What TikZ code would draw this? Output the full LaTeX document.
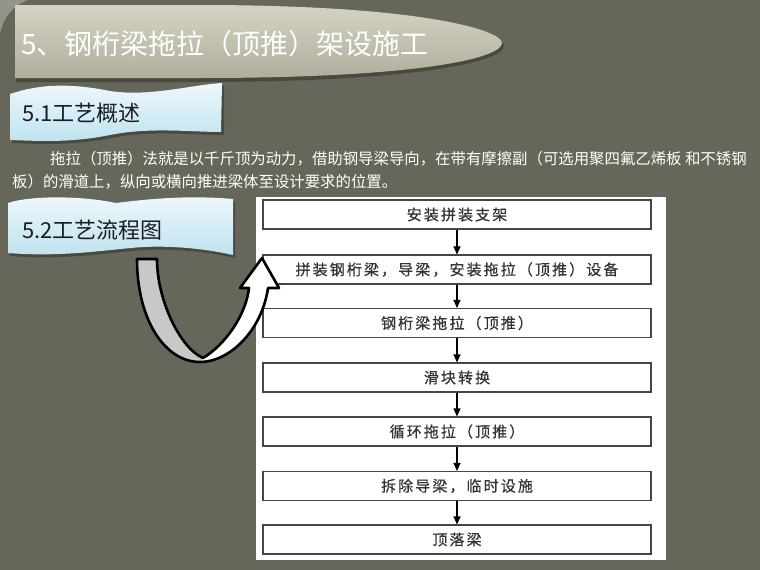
\documentclass[tikz,border=0pt]{standalone}
\usepackage{fontspec}
\setmainfont{Noto Sans CJK SC}
\usetikzlibrary{arrows.meta}
\definecolor{bg}{HTML}{66665A}
\definecolor{bannertop}{HTML}{D4D2C2}
\definecolor{bannerbot}{HTML}{B0AE9B}
\definecolor{wavetop}{HTML}{EDF8FC}
\definecolor{wavebot}{HTML}{BEE2EE}
\definecolor{wavetext}{HTML}{1C1C28}
\definecolor{boxline}{HTML}{454545}
\definecolor{boxtext}{HTML}{333333}
\definecolor{shadow}{HTML}{3E3E36}
\definecolor{armgrey}{HTML}{C8C8C8}
\begin{document}
\begin{tikzpicture}[x=1pt,y=-1pt,
  stepbox/.style={draw=boxline, line width=1.1pt, fill=white, minimum width=388pt,
    minimum height=29pt, inner sep=0pt, text=boxtext,
    font=\fontsize{15}{16}\selectfont\addfontfeature{LetterSpace=14,FakeBold=0.6}},
  flow/.style={-{Triangle[width=7pt,length=8pt]}, line width=1.1pt, black},
  wavetxt/.style={anchor=west, inner sep=0pt, text=wavetext, font=\fontsize{22}{24}\selectfont},
  paratxt/.style={anchor=west, inner sep=0pt, text=white, font=\fontsize{15.4}{16}\selectfont}]
\fill[bg] (0,0) rectangle (760,570);
\useasboundingbox (0,0) rectangle (760,570);
% top-left corner lighter arc
\fill[color=bg!70!white] (0,0) -- (28,0) .. controls (12,6) and (3,18) .. (0,34) -- cycle;
% title banner
\fill[shadow, opacity=0.7] (16,8) -- (200,8) .. controls (420,8) and (504,33) .. (504,46)
  .. controls (504,61) and (420,82) .. (200,82) -- (16,82) -- cycle;
\shade[top color=bannertop, bottom color=bannerbot] (15,5) -- (200,5) .. controls (420,5) and (502,30) .. (502,43)
  .. controls (502,58) and (420,78) .. (200,78) -- (15,78) -- cycle;
\node[anchor=west, inner sep=0pt, text=white, font=\fontsize{28}{30}\selectfont] (title) at (21,44) {5、钢桁梁拖拉（顶推）架设施工};
% wavy banner 1
\fill[shadow, opacity=0.7] (12,97) .. controls (40,87) and (70,86) .. (112,94) .. controls (150,100) and (190,88) .. (224,86)
  -- (224,135) .. controls (190,135) and (150,130) .. (112,138) .. controls (70,146) and (40,144) .. (12,143) -- cycle;
\shade[top color=wavetop, bottom color=wavebot] (10,94) .. controls (40,84) and (70,83) .. (110,91) .. controls (150,97) and (190,85) .. (222,83)
  -- (221,132) .. controls (190,132) and (150,127) .. (110,135) .. controls (70,143) and (40,141) .. (10,140) -- cycle;
\node[wavetxt] (h1) at (22,113) {5.1工艺概述};
% paragraph
\node[paratxt] (p1) at (50,159) {拖拉（顶推）法就是以千斤顶为动力，借助钢导梁导向，在带有摩擦副（可选用聚四氟乙烯板 和不锈钢};
\node[paratxt] (p2) at (12,182) {板）的滑道上，纵向或横向推进梁体至设计要求的位置。};
% wavy banner 2
\fill[shadow, opacity=0.7] (10,206) .. controls (30,199) and (80,198) .. (118,206) .. controls (150,202) and (190,198) .. (235,202)
  -- (235,258) .. controls (200,250) and (160,248) .. (133,251) .. controls (100,254) and (60,260) .. (10,256) -- cycle;
\shade[top color=wavetop, bottom color=wavebot] (8,203) .. controls (28,196) and (78,195) .. (116,203) .. controls (148,199) and (188,195) .. (233,199)
  -- (233,255) .. controls (198,247) and (158,245) .. (131,248) .. controls (98,251) and (58,257) .. (8,253) -- cycle;
\node[wavetxt] (h2) at (22,230) {5.2工艺流程图};
% white panel
\fill[white] (256,197) rectangle (666,560);
% flow boxes
\node[stepbox] (b1) at (457,214.5) {安装拼装支架};
\node[stepbox] (b2) at (457,269.5) {拼装钢桁梁，导梁，安装拖拉（顶推）设备};
\node[stepbox] (b3) at (457,323) {钢桁梁拖拉（顶推）};
\node[stepbox] (b4) at (457,377.5) {滑块转换};
\node[stepbox] (b5) at (457,431.5) {循环拖拉（顶推）};
\node[stepbox] (b6) at (457,486) {拆除导梁，临时设施};
\node[stepbox] (b7) at (457,539.5) {顶落梁};
\draw[flow] (b1) -- (b2);
\draw[flow] (b2) -- (b3);
\draw[flow] (b3) -- (b4);
\draw[flow] (b4) -- (b5);
\draw[flow] (b5) -- (b6);
\draw[flow] (b6) -- (b7);
% U-turn arrow
\fill[white] (137,259) -- (157,259) .. controls (157,300) and (180,348) .. (203,358)
  .. controls (225,345) and (246,315) .. (249,288) -- (240,288) -- (262,258) -- (279,288) -- (268,288)
  .. controls (262,330) and (230,362) .. (200,362) .. controls (165,362) and (137,320) .. (137,259) -- cycle;
\fill[armgrey] (137,259) -- (157,259) .. controls (157,300) and (180,348) .. (203,358)
  -- (200,362) .. controls (165,362) and (137,320) .. (137,259) -- cycle;
\draw[black, line width=2.6pt, line join=round] (137,259) -- (157,259) .. controls (157,300) and (180,348) .. (203,358)
  .. controls (225,345) and (246,315) .. (249,288) -- (240,288) -- (262,258) -- (279,288) -- (268,288)
  .. controls (262,330) and (230,362) .. (200,362) .. controls (165,362) and (137,320) .. (137,259) -- cycle;
\end{tikzpicture}
\end{document}
